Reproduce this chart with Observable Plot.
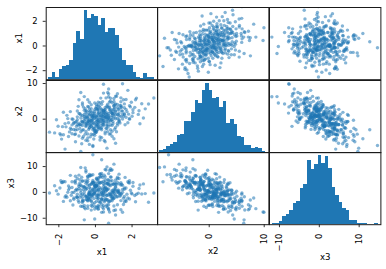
<!DOCTYPE html>
<html><head><meta charset="utf-8">
<script src="https://cdn.jsdelivr.net/npm/d3@7"></script>
<script src="https://cdn.jsdelivr.net/npm/@observablehq/plot@0.6"></script>
<style>
body{margin:0;background:#fff;}
#chart{position:relative;width:386px;height:269px;overflow:hidden;}
#chart svg{position:absolute;}
</style></head><body><div id="chart"></div>
<script>
const names = ["x1", "x2", "x3"];

const x1 = [0.44,-0.99,0.91,0.06,1.58,-0.42,0.15,2.15,-0.71,0.53,-1.47,0.82,-0.14,1.2,-0.33,0.34,-1.94,1.01,-0.61,0.63,
1.39,-0.04,-0.8,0.72,0.25,-1.18,1.86,-0.23,0.15,1.1,-0.52,0.44,-0.9,2.53,0.06,0.91,-1.28,0.53,-0.42,1.29,
0.34,-0.14,0.72,-0.71,1.67,-0.04,0.63,-1.09,0.15,1.01,-0.33,1.48,-0.61,0.44,-1.66,0.82,0.25,-0.23,1.2,-0.8,
0.63,0.06,2.05,-0.52,0.34,-0.99,0.91,-0.14,1.39,-0.42,0.15,0.72,-2.23,1.1,-0.04,0.53,-0.71,1.77,-0.33,0.44,
-1.37,1.01,0.25,-0.52,1.29,-0.23,0.82,-0.9,0.15,2.34,-0.61,0.63,-0.04,1.58,-1.09,0.34,-0.42,1.2,0.06,0.91,
-1.56,0.53,-0.14,1.1,-0.33,0.72,0.15,-0.8,1.96,-0.52,0.44,0.06,1.01,-1.18,0.63,-0.04,1.48,-0.61,0.34,-0.23,
0.82,-0.99,1.2,0.25,-0.42,0.53,-0.71,1.67,-0.14,0.15,2.24,-0.33,0.91,-1.28,0.44,0.06,1.29,-0.52,0.72,-1.75,
1.01,0.15,-0.23,1.39,-0.9,0.63,-0.04,0.82,-0.71,1.1,0.34,-0.42,1.58,-0.14,0.25,-1.09,0.91,-0.33,2.72,0.06,
0.53,-0.61,1.2,0.15,-1.37,0.72,-0.04,0.44,-0.52,1.86,-0.8,0.63,-0.23,1.01,0.06,1.39,-2.04,0.34,-0.42,0.82,
0.15,-0.99,1.1,-0.14,0.53,-0.71,1.67,-0.33,0.25,0.72,-1.47,0.91,-0.04,2.05,-0.23,0.44,-0.9,1.29,-0.42,0.15,
3.19,-2.51,0.63,1.48,-0.23,0.34,-0.61,2.62,-2.13,1.1,-0.8,2.9,-0.14,0.72,-1.66,1.77,-1.75,1.01,-0.04,2.43,
0.25,-0.14,0.72,-0.52,0.53,1.1,0.06,0.44,-0.33,0.91,0.15,-0.71,1.29,-0.04,0.63,-0.99,0.82,0.34,-0.23,1.48,
-0.42,1.01,0.06,0.53,-0.61,1.2,0.15,-1.18,0.72,-0.14,0.34,1.58,-0.33,0.91,-0.9,0.44,-0.04,1.1,-0.52,0.63,
0.25,-1.28,1.39,-0.23,0.82,-0.71,0.34,1.86,0.06,-1.09,0.72,0.15,-0.42,1.2,-0.14,1.01,-1.85,0.53,-0.33,1.29,
-0.8,0.44,
0.48,-0.47,1.34,0.01,0.67,-0.85,0.96,-0.28,1.72,-1.13,0.2,0.77,-0.66,0.39,1.15,-0.09,-1.51,0.58,1.53,-0.37,
0.29,-0.75,0.86,0.1,2.19,-1.32,0.48,-0.18,1.05,-0.56,0.67,1.91,-1.04,0.29,0.01,0.77,-0.28,1.24,-1.8,0.39,
-0.47,0.96,-0.09,1.43,-0.66,0.58,0.2,-0.94,0.86,-0.18,1.62,-0.37,0.48,-1.23,1.05,0.1,0.67,-0.56,2.0,0.01,
0.39,-0.75,0.77,-0.09,1.34,-0.28,0.2,-1.42,0.96,-0.47,0.58,1.15,-0.18,0.29,-0.85,0.86,0.39,-0.37,1.43,0.01,
0.58,-0.66,1.05,-0.09,0.77,-1.04,0.2,1.81,-0.28,0.48,-0.56,0.67,0.1,1.24,-1.61,0.39,-0.47,0.96,0.29,-0.09,
1.53,-0.85,0.58,0.01,0.77,-0.37,2.38,-1.89];

const x2 = [-0.94,0.66,1.56,-3.59,4.29,-1.13,3.95,3.32,-3.13,0.56,-4.87,5.85,1.14,0.25,-0.19,-5.17,-4.06,3.88,0.29,-1.81,
3.23,-4.53,1.16,7.11,-0.62,-0.95,0.22,2.94,-0.18,2.07,-5.93,2.37,-1.7,4.33,3.02,-1.74,-1.61,-0.82,3.55,-0.73,
2.81,-1.34,1.06,4.57,5.5,-3.43,1.77,-3.03,1.75,0.85,-7.07,2.25,1.39,-1.49,-1.24,-2.95,4.61,-0.36,3.28,-3.52,
3.42,-1.39,1.83,0.68,-2.42,2.31,1.01,-4.37,0.75,1.35,-2.1,8.48,-3.85,4.27,0.42,-4.12,-0.65,-0.99,4.76,1.54,
-2.55,2.78,-5.84,1.78,1.75,-2.01,5.03,-4.73,0.93,1.34,-1.09,-2.63,2.62,3.19,-0.83,-0.22,5.47,-1.13,-0.01,-0.09,
1.08,2.76,-7.67,1.24,1.18,-0.87,4.78,-1.59,4.75,-3.45,1.27,-1.94,4.98,-2.88,1.22,-3.98,1.42,2.49,1.71,-1.19,
-4.05,-0.17,7.13,-0.89,-0.58,3.31,-5.33,2.75,1.69,-2.38,5.91,-0.75,-4.77,0.04,0.72,3.57,-0.18,-1.8,3.26,-4.38,
1.68,-2.93,1.02,5.98,-1.15,-0.16,2.07,-0.48,4.02,-2.34,1.98,-6.08,1.26,0.59,3.24,-4.13,2.11,-2.4,2.9,0.54,
-3.57,-0.53,4.1,-1.0,2.13,0.78,-2.61,7.32,-1.25,3.8,0.34,-1.53,4.04,0.3,-3.31,3.78,-1.97,0.05,-5.26,2.28,
2.58,-2.92,6.47,-0.24,-6.32,1.0,0.54,2.83,1.31,-1.97,-1.01,4.59,-0.96,2.66,-4.21,2.37,5.45,-0.46,0.52,-0.45,
5.95,-3.64,-8.13,9.95,-2.01,-2.97,6.34,0.31,-0.16,-6.74,7.49,4.24,-7.39,6.28,-8.4,8.09,1.95,-5.47,4.55,-1.29,
0.49,0.86,0.23,-2.08,2.21,0.14,0.82,-1.76,2.01,1.56,-1.55,-0.93,2.85,-3.16,3.7,-1.55,-1.58,2.53,0.19,0.05,
-4.16,3.61,-0.56,0.56,0.84,-1.68,2.85,-1.22,1.61,-2.44,4.18,1.53,-1.57,-3.39,1.6,-0.39,1.52,2.34,2.33,-0.71,
-5.02,-4.09,4.88,-0.64,2.83,-1.76,0.88,-0.05,4.12,-6.33,0.5,1.48,0.25,1.35,-2.99,5.81,-5.59,1.66,-2.4,0.92,
-9.02,9.79,
-0.19,0.6,3.87,-3.78,4.17,-1.51,-0.72,2.2,2.12,-4.33,1.95,-4.25,3.39,-0.85,6.39,0.22,0.16,-2.55,0.79,-2.87,
5.91,-6.89,1.92,-1.47,5.44,-2.91,2.01,-0.44,-2.81,2.95,0.04,3.45,-0.64,-1.79,3.09,3.45,-4.95,1.27,-2.1,4.93,
-1.6,1.48,-5.55,3.43,-2.93,1.3,-2.45,3.6,0.55,2.04,-1.57,-0.39,-5.96,-0.04,3.24,-0.65,7.47,-4.2,0.81,0.89,
-1.4,-0.57,4.83,-2.53,-1.08,1.38,0.02,-3.57,2.58,-1.05,5.97,-3.51,0.66,-2.62,1.51,-0.28,0.8,3.46,2.33,-1.86,
0.47,-4.86,4.07,1.05,-0.12,-2.02,3.6,1.41,-1.65,2.56,-0.07,-3.53,2.65,2.65,-2.15,-0.02,2.25,-1.27,0.96,-1.15,
5.46,-2.61,0.75,-3.23,2.63,-0.67,2.37,-4.41];

const x3 = [4.28,-1.98,3.32,5.22,-3.64,-3.06,-2.37,-1.22,4.49,0.41,0.99,-3.12,3.96,-1.68,0.44,7.33,1.69,-7.03,2.23,1.33,
2.85,2.58,-1.09,-6.71,7.18,-2.67,4.52,-3.28,-5.03,1.06,8.49,-5.11,2.93,-0.6,-1.3,0.73,4.12,1.43,-5.2,7.06,
-0.21,-1.4,7.28,-3.93,-2.97,2.68,-4.9,4.54,-2.29,1.25,6.94,2.75,-5.09,3.38,-1.79,9.19,-4.03,-1.58,0.59,2.75,
3.52,-3.42,2.36,-1.46,6.44,-0.68,-2.15,4.6,-0.52,2.87,1.35,-6.29,2.6,-8.72,2.75,3.98,-2.98,4.13,-2.81,-2.91,
6.61,-1.15,3.57,-1.64,3.29,-3.44,-1.49,2.37,3.63,-0.28,2.1,3.25,-6.46,1.68,0.75,-2.49,-6.16,3.9,2.7,0.31,
-1.87,4.89,6.86,-1.01,1.99,-0.88,-6.29,0.93,-0.21,7.86,-1.22,2.52,0.48,0.0,1.04,-0.51,0.1,0.15,-7.73,3.19,
5.95,-1.77,-4.76,6.02,-3.29,-0.76,4.29,-3.5,1.16,0.76,-0.71,-0.75,8.73,0.0,0.15,-5.82,5.4,1.74,-3.64,4.21,
-5.24,5.56,-1.17,-3.17,6.69,-1.09,-0.24,2.57,-5.41,3.22,3.99,4.19,1.22,-4.36,0.41,3.59,-1.48,6.23,-0.47,-2.1,
6.03,-5.83,0.1,2.6,-3.23,4.69,0.19,-6.37,3.5,-2.57,-0.03,-1.21,-0.61,3.19,2.39,3.75,-0.68,-2.46,6.26,-0.6,
-6.49,5.4,-6.81,0.7,8.91,-3.4,1.71,-0.99,7.07,1.3,2.49,-2.11,-5.36,3.86,3.2,-0.26,-3.83,-0.33,5.08,-0.49,
-0.24,-0.21,9.88,-7.67,-6.86,12.66,-10.62,3.3,0.64,4.82,-5.36,-3.79,14.59,-11.91,4.11,-2.17,-3.49,10.93,-10.28,2.89,
1.87,-0.63,2.93,1.14,-3.14,2.03,2.77,2.21,-0.78,-3.24,4.83,-0.73,0.54,1.56,0.98,0.96,4.47,-2.81,-4.95,1.12,
6.08,-2.21,5.5,-2.15,-0.86,5.84,-1.33,-2.13,3.63,-0.93,-4.65,-1.61,2.88,4.57,1.52,0.62,-4.0,2.23,-2.73,-2.85,
5.93,1.9,-6.7,6.66,-0.83,-1.94,-0.11,3.64,0.79,6.24,-4.74,1.11,-1.79,5.26,3.87,-2.29,3.82,1.94,-0.05,-0.21,
9.67,-7.57,
2.92,-1.47,-1.08,2.36,-5.83,4.94,-0.03,0.08,-0.71,4.14,-5.41,8.5,-3.19,1.16,-1.69,-2.4,0.03,8.68,-2.24,-2.08,
-3.63,5.86,5.92,4.84,-3.6,-1.12,1.41,0.69,3.76,-6.37,4.91,0.81,-1.8,1.37,2.13,-7.61,6.56,0.97,3.85,-5.73,
4.03,-0.12,1.64,3.14,1.08,0.48,-3.53,-3.14,-1.05,3.76,5.8,-0.43,6.67,-4.86,-0.25,-1.07,-2.96,9.51,-0.58,0.5,
-0.6,2.45,-3.5,3.91,-1.53,-2.27,3.82,1.68,-2.58,1.52,-5.37,3.11,-5.48,3.86,-1.91,8.57,-1.26,-0.65,-0.66,3.67,
-2.73,2.05,0.96,-0.33,2.89,1.21,-0.98,3.77,1.44,-3.67,4.47,3.45,-5.62,0.24,-1.31,5.79,-2.74,3.05,-0.95,3.46,
-4.66,3.7,1.85,2.12,-0.28,-2.45,1.52,4.5];

// histogram bin counts (30 bins each) and bin ranges
const hist1 = [3,8,3,12,15,17,22,42,56,47,80,71,76,73,63,71,55,60,59,51,36,22,17,17,8,2,1,7,2,2];
const hist2 = [3,4,7,10,12,21,22,38,38,49,64,60,76,84,76,66,67,55,62,36,40,34,20,18,9,9,5,6,5,2];
const hist3 = [2,2,5,11,14,19,29,32,50,55,89,76,83,95,85,94,77,52,40,30,23,19,6,6,1,1,1,0,0,2];
const histRange1 = [-2.55, 3.23];
const histRange2 = [-9.0, 10.3];
const histRange3 = [-11.84, 14.79];

// tick labels
const ticks1 = [-2, 0, 2];
const ticks2 = [0, 10];
const ticks3 = [-10, 0, 10];

// axis limits
const xDom1 = [-2.69, 3.40], xDom2 = [-9.4, 10.85], xDom3 = [-12.5, 15.45];
const yDom1 = [-2.73, 3.12], yDom2 = [-9.4, 10.85], yDom3 = [-12.5, 15.45];

const series = [x1, x2, x3];
const hists = [hist1, hist2, hist3];
const histRanges = [histRange1, histRange2, histRange3];
const tickVals = [ticks1, ticks2, ticks3];
const xDoms = [xDom1, xDom2, xDom3];
const yDoms = [yDom1, yDom2, yDom3];

const BLUE = "#1f77b4";
const colX = [45.7, 157.2, 268.6, 380];
const rowY = [7.4, 79.6, 151.8, 224];
const ML = 45.7, MB = 45;
const labelDx = [-26.7, -26.7, -34.7];
const labelDy = [30.5, 29, 35];
const FONT = "'DejaVu Sans', sans-serif";
const style = {fontFamily: FONT, fontSize: "8.4px", overflow: "visible", background: "transparent", color: "#000"};

const root = document.getElementById("chart");

function place(svg, left, top) {
  svg.style.left = left + "px";
  svg.style.top = top + "px";
  root.appendChild(svg);
}

function yAxisMarks(r) {
  return [
    Plot.axisY({ticks: tickVals[r], tickSize: 3, tickPadding: 5.5, strokeWidth: 0.8, label: null, tickFormat: d3.format("d")}),
    Plot.text([names[r]], {frameAnchor: "left", dx: labelDx[r], rotate: -90, text: d => d, fontSize: 8.6, fill: "#000"})
  ];
}

function panel(r, c) {
  const w = colX[c + 1] - colX[c], h = rowY[r + 1] - rowY[r];
  const ml = c === 0 ? ML : 0, mb = r === 2 ? MB : 0;
  const marks = [];
  let yOpt;
  if (r === c) {
    const counts = hists[c], lo = histRanges[c][0], hi = histRanges[c][1];
    const bw = (hi - lo) / counts.length;
    marks.push(Plot.rect(counts, {x1: (d, i) => lo + i * bw, x2: (d, i) => lo + (i + 1) * bw, y1: () => 0, y2: d => d,
      fill: BLUE, shapeRendering: "crispEdges"}));
    yOpt = {domain: [0, d3.max(counts) * 1.05], axis: null};
  } else {
    const pts = series[c].map((v, i) => ({x: v, y: series[r][i]}));
    marks.push(Plot.dot(pts, {x: "x", y: "y", r: 1.7, fill: BLUE, fillOpacity: 0.55, clip: true}));
    yOpt = {domain: yDoms[r], axis: null};
  }
  if (c === 0 && r !== 0) marks.push(...yAxisMarks(r));
  if (r === 2) {
    marks.push(Plot.axisX({ticks: tickVals[c], tickSize: 3, tickPadding: 6, tickRotate: -90, strokeWidth: 0.8, label: null, tickFormat: d3.format("d")}));
    marks.push(Plot.text([names[c]], {frameAnchor: "bottom", dy: labelDy[c], text: d => d, fontSize: 8.6, fill: "#000"}));
  }
  marks.push(Plot.frame({stroke: "#1a1a1a", strokeWidth: 1}));
  const svg = Plot.plot({
    width: w + ml, height: h + mb,
    marginLeft: ml, marginRight: 0, marginTop: 0, marginBottom: mb,
    x: {domain: xDoms[c], axis: null},
    y: yOpt,
    style,
    marks
  });
  place(svg, colX[c] - ml, rowY[r]);
}

for (let r = 0; r < 3; r++) for (let c = 0; c < 3; c++) panel(r, c);

// y axis for the top-left histogram panel shows x1 values
{
  const h = rowY[1] - rowY[0];
  const svg = Plot.plot({
    width: ML + (colX[1] - colX[0]), height: h,
    marginLeft: ML, marginRight: 0, marginTop: 0, marginBottom: 0,
    y: {domain: yDom1, axis: null},
    style,
    marks: yAxisMarks(0)
  });
  place(svg, 0, rowY[0]);
}
</script></body></html>
